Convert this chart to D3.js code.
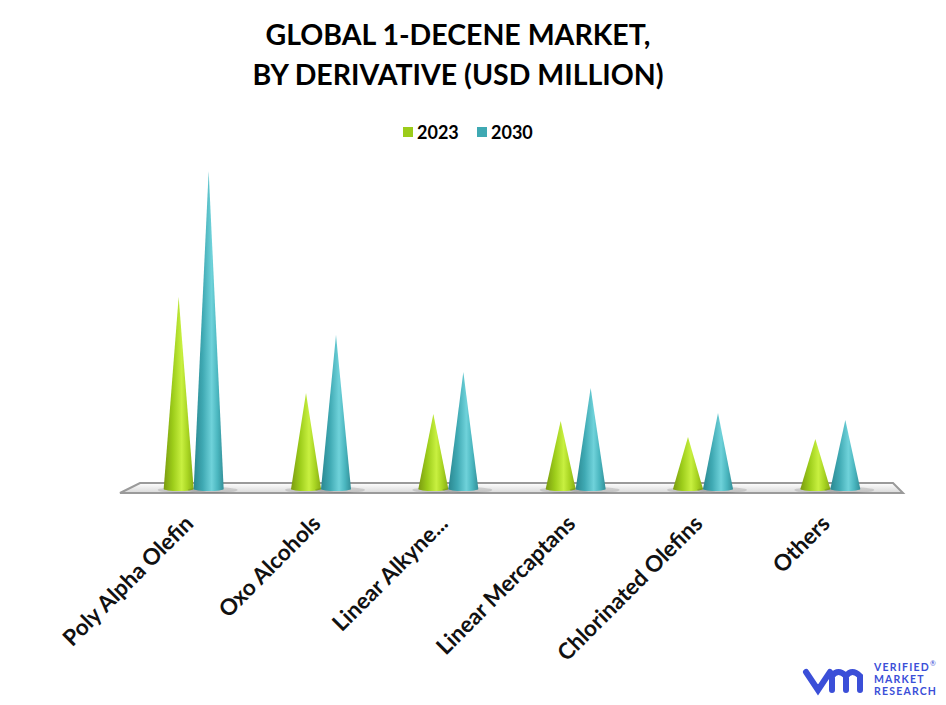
<!DOCTYPE html>
<html><head><meta charset="utf-8">
<script src="https://cdn.jsdelivr.net/npm/d3@7"></script>
<style>body{margin:0;background:#fff}svg{font-family:Lato,"Open Sans",sans-serif}</style>
</head><body><svg id="c" width="946" height="705"></svg>
<script>
const categories=["Poly Alpha Olefin","Oxo Alcohols","Linear Alkyne...","Linear Mercaptans","Chlorinated Olefins","Others"];
const series=["2023","2030"];
const values2023=[960,480,375,340,260,250];
const values2030=[1590,770,585,505,380,345];
const svg=d3.select("#c");
const defs=svg.append("defs");
function grad(id,stops){const g=defs.append("linearGradient").attr("id",id);stops.forEach(([o,c])=>g.append("stop").attr("offset",o).attr("stop-color",c));}
grad("g23",[[0,"#7a9a10"],[0.3,"#9ccc1a"],[0.6,"#c8f040"],[0.8,"#a8d422"],[1,"#86ac14"]]);
grad("g30",[[0,"#2a8790"],[0.3,"#3fa9b3"],[0.6,"#6fd2da"],[0.8,"#4ab6bf"],[1,"#338f98"]]);
const fl=defs.append("linearGradient").attr("id","fl").attr("x1",0).attr("x2",0).attr("y1",0).attr("y2",1);
fl.append("stop").attr("offset",0).attr("stop-color","#fff");fl.append("stop").attr("offset",1).attr("stop-color","#d8d8d8");

svg.append("text").attr("x",458).attr("y",45).attr("text-anchor","middle").attr("font-size",28.5).attr("font-weight","bold").text("GLOBAL 1-DECENE MARKET,");
svg.append("text").attr("x",458).attr("y",85).attr("text-anchor","middle").attr("font-size",28.5).attr("font-weight","bold").text("BY DERIVATIVE (USD MILLION)");

const colors={"2023":"url(#g23)","2030":"url(#g30)"};
const lg=svg.append("g");
[[403,"2023","#9ccc1a"],[477,"2030","#3fa9b3"]].forEach(([x,t,c])=>{
 lg.append("rect").attr("x",x).attr("y",127).attr("width",10).attr("height",10).attr("fill",c);
 lg.append("text").attr("x",x+14).attr("y",139).attr("font-size",18).attr("font-weight","bold").text(t);
});

const base=489;
const x=d3.scaleBand().domain(categories).range([130,894]);
const xs=d3.scaleBand().domain(series).range([-30,30]);
const y=d3.scaleLinear().domain([0,2000]).range([base,89]);

svg.append("path").attr("d","M120,493 L903,493 L893,483 L140,483 Z").attr("fill","url(#fl)").attr("stroke","#9a9a9a").attr("stroke-width",2);

const data=categories.map((c,i)=>({c,v:{"2023":values2023[i],"2030":values2030[i]}}));
data.forEach(d=>{
 series.forEach(s=>{
  const cx=x(d.c)+x.bandwidth()/2+xs(s)+xs.bandwidth()/2;
  const hw=15, ty=y(d.v[s]);
  svg.append("ellipse").attr("cx",cx+4).attr("cy",base+1).attr("rx",hw+10).attr("ry",3).attr("fill","#000").attr("opacity",0.12);
  svg.append("path").attr("d",`M${cx-hw},${base} L${cx},${ty} L${cx+hw},${base} A${hw},2 0 0 1 ${cx-hw},${base} Z`).attr("fill",colors[s]);
 });
});

categories.forEach(c=>{
 const cx=x(c)+x.bandwidth()/2+1, cy=525;
 svg.append("text").attr("transform",`translate(${cx},${cy}) rotate(-45)`).attr("text-anchor","end").attr("font-size",22.5).attr("font-weight","bold").attr("fill","#111").text(c);
});

const lgo=svg.append("g");
lgo.append("path").attr("d","M806,672 L818,690 L830,672 M832,690 L832,676 Q838,668 846,676 L846,690 M846,676 Q852,668 860,676 L860,690").attr("fill","none").attr("stroke","#3b4fd8").attr("stroke-width",6).attr("stroke-linecap","round");
["VERIFIED","MARKET","RESEARCH"].forEach((t,i)=>lgo.append("text").attr("x",874).attr("y",671+i*12).attr("font-size",10.5).attr("font-weight","bold").attr("letter-spacing",1.2).attr("fill","#3b4fd8").text(t));
lgo.append("text").attr("x",930).attr("y",666).attr("font-size",7).attr("fill","#3b4fd8").text("®");
</script></body></html>
